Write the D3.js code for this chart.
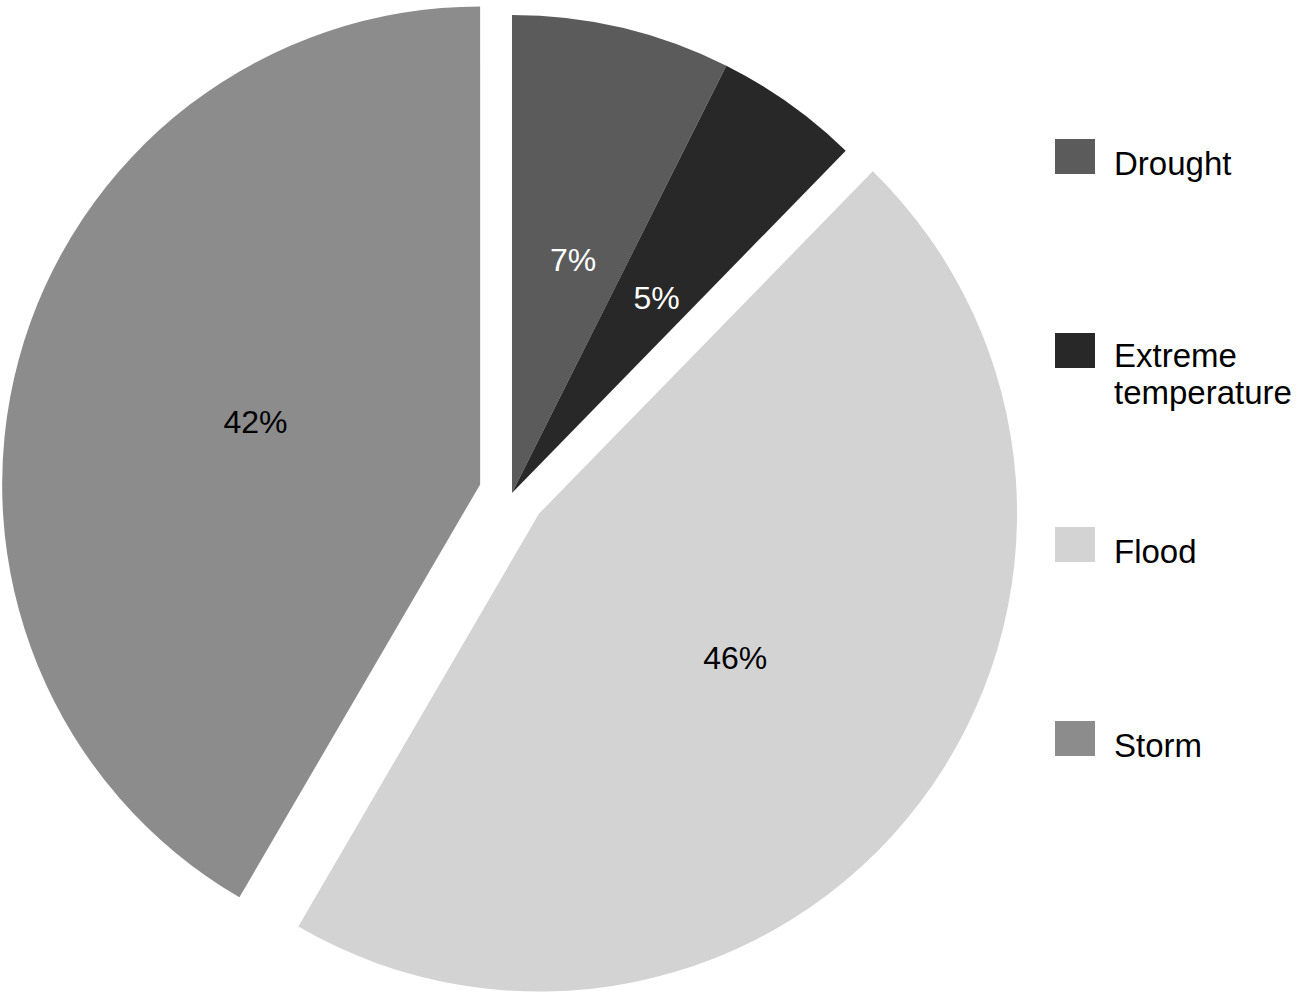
<!DOCTYPE html>
<html>
<head>
<meta charset="utf-8">
<script src="https://cdn.jsdelivr.net/npm/d3@7"></script>
<style>
  body { margin: 0; background: #fff; }
  text { font-family: "Liberation Sans", Arial, Helvetica, sans-serif; }
</style>
</head>
<body>
<div id="vis-container"></div>
<script>
// data (percent share of disasters)
const categories = ["Drought", "Extreme temperature", "Flood", "Storm"];
const values = [7.4, 4.9, 46.1, 41.6];
const colors = ["#5b5b5b", "#282828", "#d3d3d3", "#8c8c8c"];
const labelColors = ["#fff", "#fff", "#000", "#000"];
// how far each slice is pulled out of the pie (px)
const explode = [0, 0, 34, 33];

let width = 1300;
let height = 1004;
let cx = 512;
let cy = 493;
let radius = 478;

let svg = d3.select("#vis-container").append("svg")
    .attr("width", width)
    .attr("height", height);

let pie = d3.pie().sort(null).value(d => d);
let arcs = pie(values);

let arc = d3.arc().innerRadius(0).outerRadius(radius);

// offset of a slice along its middle angle
function shift(d, i) {
    let mid = (d.startAngle + d.endAngle) / 2;
    return [Math.sin(mid) * explode[i], -Math.cos(mid) * explode[i]];
}

let pieG = svg.append("g").attr("transform", "translate(" + cx + "," + cy + ")");

let slices = pieG.selectAll("g.slice")
    .data(arcs).enter().append("g")
    .attr("class", "slice")
    .attr("transform", (d, i) => "translate(" + shift(d, i).join(",") + ")");

slices.append("path")
    .attr("d", arc)
    .attr("fill", (d, i) => colors[i]);

// percent labels sit a bit right of the centroid in the original
slices.append("text")
    .attr("transform", d => "translate(" + arc.centroid(d).join(",") + ")")
    .attr("dx", 6)
    .attr("text-anchor", "middle")
    .attr("dominant-baseline", "central")
    .style("font-size", "32px")
    .style("fill", (d, i) => labelColors[i])
    .text(d => Math.round(d.data) + "%");

// legend on the right
let legendY = d3.scalePoint().domain(categories).range([139, 721]);

let legend = svg.append("g").selectAll("g")
    .data(categories).enter().append("g")
    .attr("transform", d => "translate(1055," + legendY(d) + ")");

legend.append("rect")
    .attr("width", 40)
    .attr("height", 35)
    .attr("fill", (d, i) => colors[i]);

legend.append("text")
    .attr("x", 59)
    .attr("y", 36)
    .style("font-size", "33px")
    .style("fill", "#000")
    .each(function (d) {
        let words = d.split(" ");
        let t = d3.select(this);
        if (words.length == 1) {
            t.text(d);
        } else {
            words.forEach((w, j) => {
                t.append("tspan").attr("x", 59).attr("y", 34 + j * 37).text(w);
            });
        }
    });
</script>
</body>
</html>
